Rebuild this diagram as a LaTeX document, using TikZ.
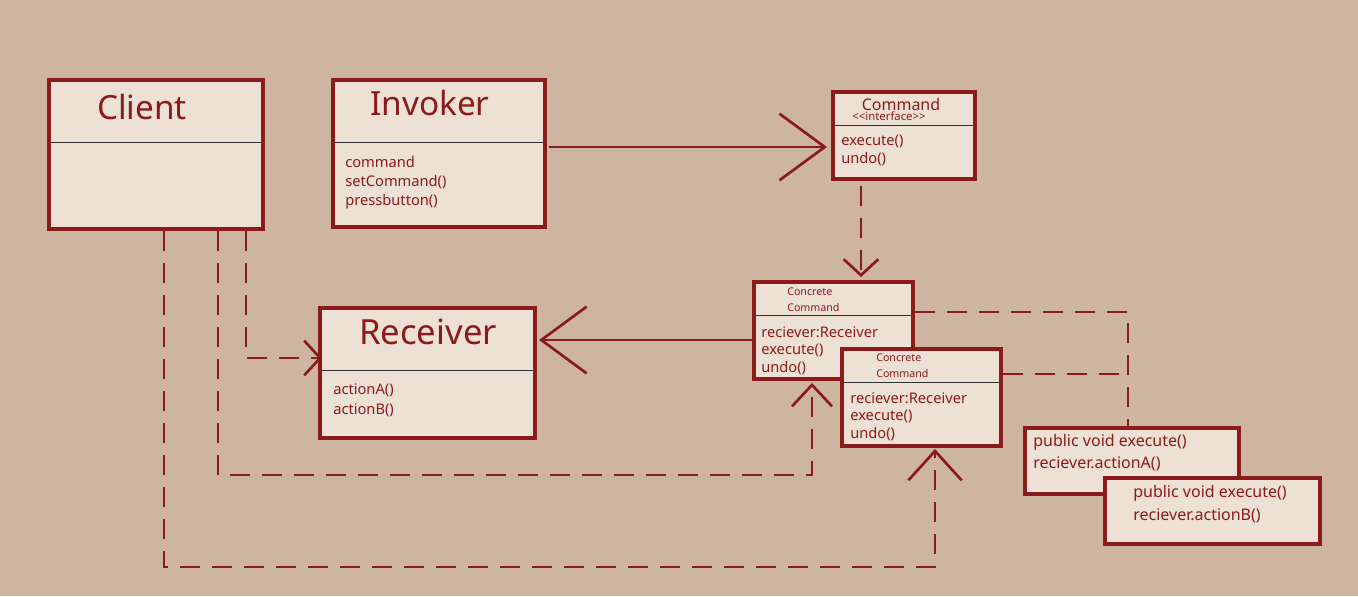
\documentclass[tikz,border=0pt]{standalone}
\usepackage{fontspec}
\setmainfont{Noto Sans}
\usetikzlibrary{arrows.meta}
\definecolor{bg}{HTML}{CDB5A0}
\definecolor{bx}{HTML}{EDE1D5}
\definecolor{dr}{HTML}{8B1A1A}
\begin{document}
\begin{tikzpicture}[x=0.75pt,y=-0.75pt,
  box/.style={draw=dr,fill=bx,line width=3pt},
  sep/.style={draw=black!80,line width=0.6pt},
  txt/.style={text=dr,anchor=west,inner sep=0pt,font=\fontsize{11}{12}\selectfont},
  ttl/.style={text=dr,inner sep=0pt,font=\fontsize{25}{28}\selectfont},
  conn/.style={draw=dr,line width=2pt},
  dsh/.style={conn,dash pattern=on 15pt off 9pt},
  bigV/.style={-{Straight Barb[length=34pt,width=50pt,line width=2pt]}},
  smV/.style={-{Straight Barb[length=12pt,width=26pt,line width=2pt]}}]
\fill[bg] (0,0) rectangle (1358,596);
\useasboundingbox (0,0) rectangle (1358,596);
% Client
\draw[box] (49,80) rectangle (263,229);
\draw[sep] (51,142) -- (261,142);
\node[ttl] (clt) at (142,107) {Client};
% Invoker
\draw[box] (333,80) rectangle (545,227);
\draw[sep] (335,142) -- (543,142);
\node[ttl] (invt) at (430,103) {Invoker};
\node[txt] (i1) at (345,162) {command};
\node[txt] (i2) at (345,182) {setCommand()};
\node[txt] (i3) at (345,202) {pressbutton()};
% Command
\draw[box] (833,92) rectangle (975,179);
\draw[sep] (835,125) -- (973,125);
\node[text=dr,inner sep=0pt,font=\fontsize{12}{14}\selectfont] (cmt) at (901,104) {Command};
\node[text=dr,inner sep=0pt,font=\fontsize{8.5}{10}\selectfont] (cmi) at (889,116) {{<}{<}interface{>}{>}};
\node[txt] (c1) at (841,141) {execute()};
\node[txt] (c2) at (841,159) {undo()};
% Receiver
\draw[box] (320,308) rectangle (535,438);
\draw[sep] (322,370) -- (533,370);
\node[ttl,font=\fontsize{26}{28}\selectfont] (rt) at (428,332) {Receiver};
\node[txt] (r1) at (333,390) {actionA()};
\node[txt] (r2) at (333,410) {actionB()};
% Concrete 1
\draw[box] (754,282) rectangle (913,379);
\draw[sep] (756,315) -- (911,315);
\node[txt,font=\fontsize{8}{9}\selectfont] at (787,292) {Concrete};
\node[txt,font=\fontsize{8}{9}\selectfont] at (787,307) {Command};
\node[txt] at (761,332) {reciever:Receiver};
\node[txt] at (761,350) {execute()};
\node[txt] at (761,368) {undo()};
% Concrete 2
\draw[box] (842,349) rectangle (1001,446);
\draw[sep] (844,382) -- (999,382);
\node[txt,font=\fontsize{8}{9}\selectfont] at (876,358) {Concrete};
\node[txt,font=\fontsize{8}{9}\selectfont] at (876,373) {Command};
\node[txt] at (850,398) {reciever:Receiver};
\node[txt] at (850,416) {execute()};
\node[txt] at (850,434) {undo()};
% code boxes
\draw[box] (1025,428) rectangle (1239,494);
\node[txt,font=\fontsize{12}{13}\selectfont] at (1033,442) {public void execute()};
\node[txt,font=\fontsize{12}{13}\selectfont] at (1033,464) {reciever.actionA()};
\draw[box] (1105,478) rectangle (1320,544);
\node[txt,font=\fontsize{12}{13}\selectfont] at (1133,493) {public void execute()};
\node[txt,font=\fontsize{12}{13}\selectfont] at (1133,516) {reciever.actionB()};
% coordinates
\coordinate (a1) at (549,147); \coordinate (a2) at (827,147);
\coordinate (b1) at (861,186); \coordinate (b2) at (861,277);
\coordinate (d1) at (752,340); \coordinate (d2) at (539,340);
% connectors
\draw[conn,bigV] (a1) -- (a2);
\draw[dsh,smV] (b1) -- (b2);
\draw[conn,bigV] (d1) -- (d2);
\draw[dsh,smV] (246,231) -- (246,358) -- (322,358);
\draw[dsh,-{Straight Barb[length=16pt,width=30pt,line width=2pt]}] (218,231) -- (218,475) -- (812,475) -- (812,383);
\draw[dsh,-{Straight Barb[length=22pt,width=40pt,line width=2pt]}] (164,231) -- (164,567) -- (935,567) -- (935,449);
\draw[dsh] (915,312) -- (1128,312) -- (1128,426);
\draw[dsh] (1003,374) -- (1128,374);
\end{tikzpicture}
\end{document}
